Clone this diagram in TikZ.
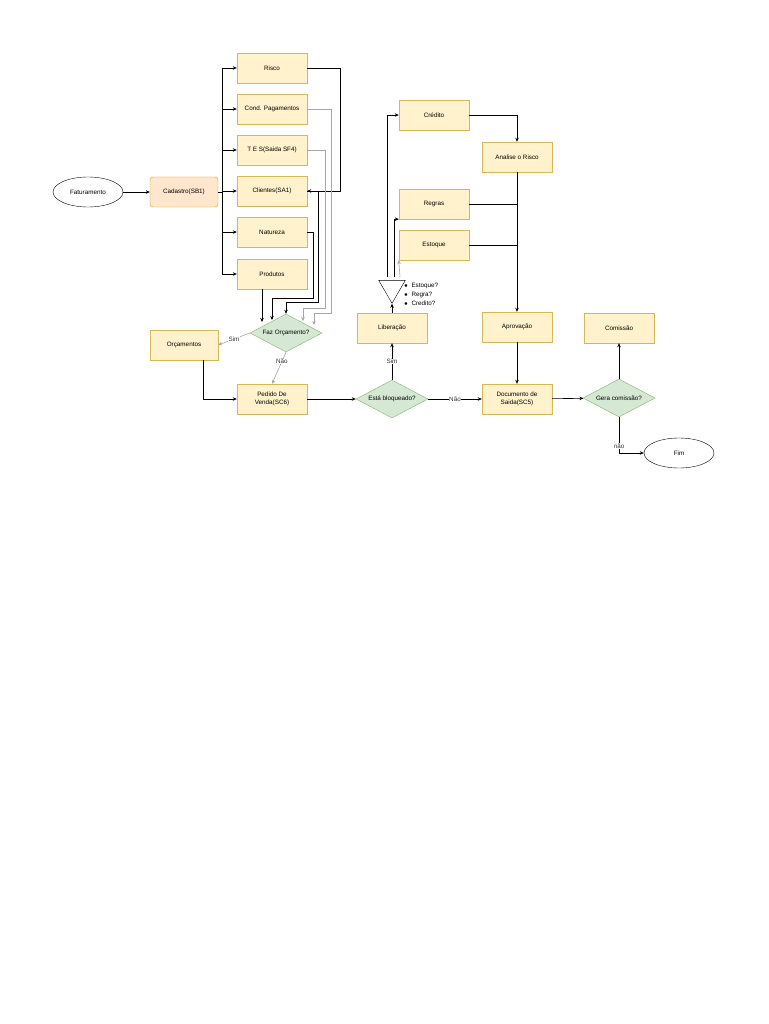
\documentclass[tikz,border=0pt]{standalone}
\usepackage{fontspec}
\setmainfont{Liberation Sans}
\usetikzlibrary{shapes.geometric,arrows.meta}
\definecolor{yf}{HTML}{FFF2CC}\definecolor{yd}{HTML}{D6B656}
\definecolor{gf}{HTML}{D5E8D4}\definecolor{gd}{HTML}{82B366}
\definecolor{of}{HTML}{FFE6CC}\definecolor{od}{HTML}{D79B00}
\begin{document}
\begin{tikzpicture}[x=1pt,y=-1pt,font=\fontsize{6.3}{7.5}\selectfont,
 box/.style={draw=yd,fill=yf,minimum width=70pt,minimum height=30pt,align=center,inner sep=1pt},
 dia/.style={diamond,aspect=1.9,draw=gd,fill=gf,minimum width=72pt,minimum height=38pt,inner sep=0pt},
 ell/.style={ellipse,draw,minimum width=70pt,minimum height=30pt},
 ar/.style={-{Stealth[length=4pt,width=3.5pt]},line width=0.6pt},
 gar/.style={ar,draw=gray!70},
 lab/.style={fill=white,inner sep=0.5pt,text=black!80}]
\useasboundingbox (0,0) rectangle (768,1024);
\node[ell] (fat) at (88,192) {Faturamento};
\node[box,draw=od,fill=of,rounded corners=3pt,minimum width=68pt] (cad) at (184,192) {Cadastro(SB1)};
\node[box] (risco) at (272,68) {Risco};
\node[box] (cond) at (272,109) {Cond. Pagamentos};
\node[box] (tes) at (272,150) {T E S(Saida SF4)};
\node[box] (cli) at (272,191) {Clientes(SA1)};
\node[box] (nat) at (272,232) {Natureza};
\node[box] (prod) at (272,274) {Produtos};
\node[dia] (faz) at (286,333) {Faz Orçamento?};
\node[box,minimum width=68pt] (orc) at (184,345) {Orçamentos};
\node[box] (ped) at (272,399) {Pedido De\\Venda(SC6)};
\node[dia] (esta) at (392,399) {Está bloqueado?};
\node[box] (lib) at (392,328) {Liberação};
\node[isosceles triangle,shape border rotate=-90,draw,fill=white,isosceles triangle apex angle=60,minimum height=23pt,inner sep=0pt] (tri) at (392,288) {};
\node[box] (cred) at (434,115) {Crédito};
\node[box] (reg) at (434,204) {Regras};
\node[box] (est) at (434,245) {Estoque};
\node[box] (ana) at (517,157) {Analise o Risco};
\node[box] (apr) at (517,327) {Aprovação};
\node[box] (doc) at (517,399) {Documento de\\Saida(SC5)};
\node[dia] (gera) at (619,398) {Gera comissão?};
\node[box] (com) at (619,328) {Comissão};
\node[ell] (fim) at (679,453) {Fim};
\node[anchor=north west,align=left,inner sep=0pt,font=\fontsize{6.3}{9}\selectfont] (lst) at (404,283) {$\bullet$\ \ Estoque?\\$\bullet$\ \ Regra?\\$\bullet$\ \ Credito?};
\coordinate (c1) at (222,192);
\draw[ar] (fat) -- (cad);
\foreach \t in {risco,cond,tes,cli,nat,prod} \draw[ar] (cad.east) -- (c1) |- (\t.west);
\draw[ar] (risco.east) -- ++(33,0) |- (cli.east);
\draw[gar] (cond.east) -- ++(24,0) -- ++(0,204) -| (314,325);
\draw[gar] (tes.east) -- ++(18,0) -- ++(0,158) -| (303,321);
\draw[ar] (cli.east) -- ++(11,0) -- ++(0,111) -| (faz.north);
\draw[ar] (nat.east) -- ++(6,0) -- ++(0,66) -| (272,320);
\draw[ar] (prod.south -| 262,0) -- (262,322);
\draw[gar] (faz.west) -- node[lab]{Sim} (orc.east);
\draw[gar] (faz.south) -- node[lab,pos=0.3]{Não} (ped.north);
\draw[ar] (orc.south -| 203,0) |- (ped.west);
\draw[ar] (ped) -- (esta);
\draw[ar] (esta) -- node[lab]{Não} (doc);
\draw[ar] (esta.north) -- node[lab]{Sim} (lib.south);
\draw[ar] (lib.north) -- (tri.apex);
\draw[ar] (387,277) |- (cred.west);
\draw[ar] (394,277) |- (reg.south west);
\draw[gar] (400,277) -- (est.south west);
\draw[ar] (cred.east) -| (ana.north);
\draw[ar] (ana.south) -- (apr.north);
\draw[line width=0.6pt] (reg.east) -- (517,204) (est.east) -- (517,245);
\draw[ar] (apr) -- (doc);
\draw[ar] (doc) -- (gera);
\draw[ar] (gera) -- (com);
\draw[ar] (gera.south) |- node[lab,pos=0.4]{não} (fim.west);
\end{tikzpicture}
\end{document}
